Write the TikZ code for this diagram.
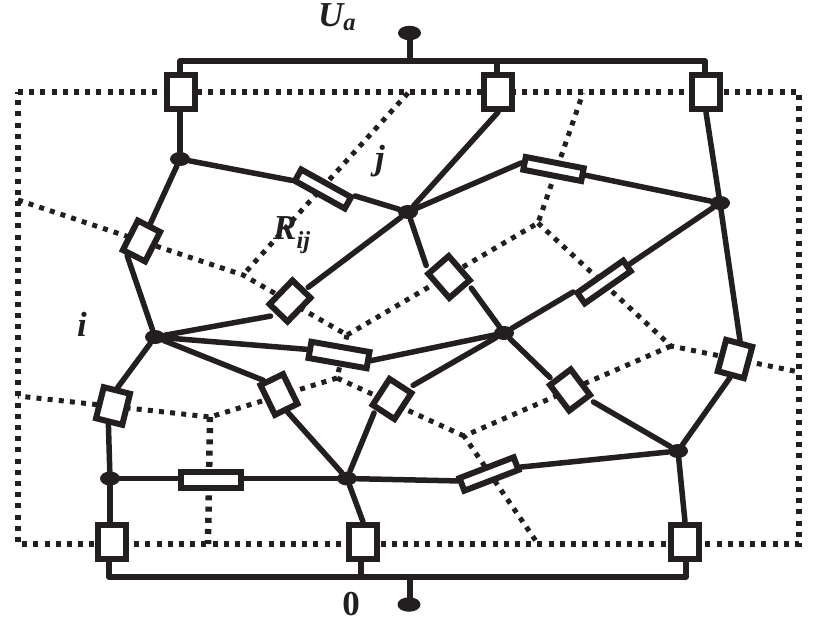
\documentclass[tikz,border=0pt]{standalone}
\usepackage{fontspec}
\setmainfont{Liberation Serif}
\usetikzlibrary{shapes.geometric,calc}
\definecolor{ink}{HTML}{231F20}
\tikzset{
  wire/.style={draw=ink,line width=5.5pt,line cap=round},
  dots/.style={draw=ink,line width=5pt,dash pattern=on 5pt off 6.2pt},
  edgedots/.style={draw=ink,line width=6.5pt,dash pattern=on 5pt off 6.2pt},
  box/.style={draw=ink,fill=white,line width=6pt,rectangle,inner sep=0pt,minimum width=#1},
  junction/.style={ellipse,fill=ink,inner sep=0pt,minimum width=20pt,minimum height=14pt},
  terminal/.style={ellipse,fill=ink,inner sep=0pt,minimum width=23pt,minimum height=14.5pt},
  lab/.style={text=ink,inner sep=0pt,font=\fontsize{35}{35}\selectfont\bfseries\itshape}
}
\begin{document}
\begin{tikzpicture}[x=1pt,y=-1pt]
\useasboundingbox (0,0) rectangle (816,620);
% cell boundaries
\coordinate (c1) at (18,92);
\coordinate (c2) at (799,92);
\coordinate (c3) at (799,544);
\coordinate (c4) at (18,544);
\coordinate (p1) at (408,93);
\coordinate (p2) at (243,275);
\coordinate (p2l) at (18,200);
\coordinate (p3) at (347,335);
\coordinate (p4) at (538,223);
\coordinate (p5) at (583,93);
\coordinate (p6) at (671,346);
\coordinate (p6r) at (799,372);
\coordinate (p7) at (464,436);
\coordinate (p8) at (538,544);
\coordinate (p9) at (337,378);
\coordinate (p10) at (210,417);
\coordinate (p10l) at (18,396);
\coordinate (p10b) at (208,544);
\draw[edgedots] (c1) -- (c2) -- (c3) -- (c4) -- cycle;
\draw[dots] (p1) -- (p2);
\draw[dots] (p2l) -- (p2) -- (p3);
\draw[dots] (p3) -- (p4) -- (p5);
\draw[dots] (p4) -- (p6) -- (p6r);
\draw[dots] (p6) -- (p7) -- (p8);
\draw[dots] (p7) -- (p9) -- (p3);
\draw[dots] (p9) -- (p10) -- (p10l);
\draw[edgedots] (p10) -- (p10b);
% contacts
\foreach \n/\x/\y in {st1/181/92,st2/498/92,st3/706/92,sb1/112/542,sb2/363/542,sb3/685/542}
  \node[box=27.5pt,minimum height=34.5pt] (\n) at (\x,\y) {};
% square-ish resistors
\node[box=25pt,minimum height=33pt,rotate=-27] (r1) at (141.5,241) {};
\node[box=25pt,minimum height=33pt,rotate=-44] (r2) at (290,301) {};
\node[box=27pt,minimum height=32pt,rotate=41] (r3) at (449,277) {};
\node[box=27pt,minimum height=32pt,rotate=-14] (r4) at (113,406) {};
\node[box=25pt,minimum height=33pt,rotate=26] (r5) at (279,394.5) {};
\node[box=26pt,minimum height=31pt,rotate=-33] (r6) at (392,399) {};
\node[box=26pt,minimum height=32pt,rotate=37] (r7) at (570,390) {};
\node[box=27pt,minimum height=32.5pt,rotate=-15] (r8) at (735,359) {};
% long resistors
\node[box=57pt,minimum height=13pt,rotate=-29] (q1) at (323,189) {};
\node[box=59pt,minimum height=13pt,rotate=-11] (q2) at (553.5,169) {};
\node[box=56pt,minimum height=13pt,rotate=35] (q3) at (604,282) {};
\node[box=59pt,minimum height=16.5pt,rotate=-10] (q4) at (339,355) {};
\node[box=60pt,minimum height=16pt] (q5) at (210.5,479.5) {};
\node[box=58pt,minimum height=13.5pt,rotate=21] (q6) at (489,474) {};
% junctions
\node[junction] (A) at (180,159) {};
\node[junction] (B) at (408,212) {};
\node[junction] (C) at (720,203) {};
\node[junction] (D) at (155,337) {};
\node[junction] (E) at (504,333) {};
\node[junction] (F) at (110,478.5) {};
\node[junction] (G) at (347,478.5) {};
\node[junction] (H) at (678,451) {};
\node[terminal] (Tt) at (409.5,33) {};
\node[terminal] (Tb) at (409,604.5) {};
% buses
\coordinate (tl) at (180,61);
\coordinate (tm) at (410,61);
\coordinate (t2) at (497,61);
\coordinate (tr) at (705,61);
\coordinate (bl) at (109,577);
\coordinate (bm) at (410,577);
\coordinate (b2) at (361,577);
\coordinate (br) at (686,577);
\draw[wire,line join=round] (tl |- st1.north) -- (tl) -- (tr) -- (tr |- st3.north);
\draw[wire] (t2) -- (t2 |- st2.north);
\draw[wire] (tm) -- (tm |- Tt);
\draw[wire,line join=round] (bl |- sb1.south) -- (bl) -- (br) -- (br |- sb3.south);
\draw[wire] (b2) -- (b2 |- sb2.south);
\draw[wire] (bm) -- (bm |- Tb);
% contacts to junctions
\draw[wire] (A |- st1.south) -- (A);
\draw[wire] (st2.south) -- (B);
\draw[wire] (st3.south) -- (C);
\draw[wire] (F) -- (F |- sb1.north);
\draw[wire] (G) -- (sb2.north);
\draw[wire] (H) -- (sb3.north);
% network
\draw[wire] (A) -- ($(q1.south west)!.2!(q1.west)$);
\draw[wire] (q1.north east) -- (B);
\draw[wire] (B) -- (q2.west);
\draw[wire] (q2.east) -- (C);
\draw[wire] (A) -- (r1.north);
\draw[wire] ($(r1.south)!.4!(r1.south west)$) -- (D);
\draw[wire,shorten >=3pt] (B) -- (r2);
\draw[wire,shorten >=6pt] (D) -- (r2.south);
\draw[wire,shorten >=5pt] (B) -- ($(r3.north)!.7!(r3.north west)$);
\draw[wire,shorten >=4pt] (E) -- ($(r3.south)!.6!(r3.south east)$);
\draw[wire] (C) -- (q3.east);
\draw[wire] (E) -- (q3.north west);
\draw[wire] (C) -- (r8.north);
\draw[wire] (r8.south) -- (H);
\draw[wire] (D) -- (q4.west);
\draw[wire] (E) -- (q4.east);
\draw[wire] (D) -- (r4.north);
\draw[wire] (r4.south) -- (F);
\draw[wire] (D) -- ($(r5.north)!.5!(r5.north west)$);
\draw[wire] (r5.south) -- (G);
\draw[wire,shorten >=5pt] (E) -- ($(r6.north)!.5!(r6.north east)$);
\draw[wire,shorten >=3pt] (G) -- ($(r6.south)!.5!(r6.south west)$);
\draw[wire,shorten >=3pt] (E) -- ($(r7.north)!.5!(r7.north west)$);
\draw[wire,shorten >=5pt] (H) -- ($(r7.south)!.6!(r7.south east)$);
\draw[wire] (F) -- (F -| q5.west);
\draw[wire] (G -| q5.east) -- (G);
\draw[wire] (G) -- ($(q6.west)!.5!(q6.north west)$);
\draw[wire] ($(q6.east)!.5!(q6.south east)$) -- (H);
% labels
\node[lab,anchor=base west] (Ua) at (318,27) {U\textsubscript{a}};
\node[lab,anchor=base west] (Rij) at (273,240) {R\textsubscript{ij}};
\node[lab,anchor=base] (li) at (82,336) {i};
\node[lab,anchor=base] (lj) at (380,170) {j};
\node[lab,anchor=base,font=\fontsize{35}{35}\selectfont\bfseries] (l0) at (351,615) {0};
\end{tikzpicture}
\end{document}
